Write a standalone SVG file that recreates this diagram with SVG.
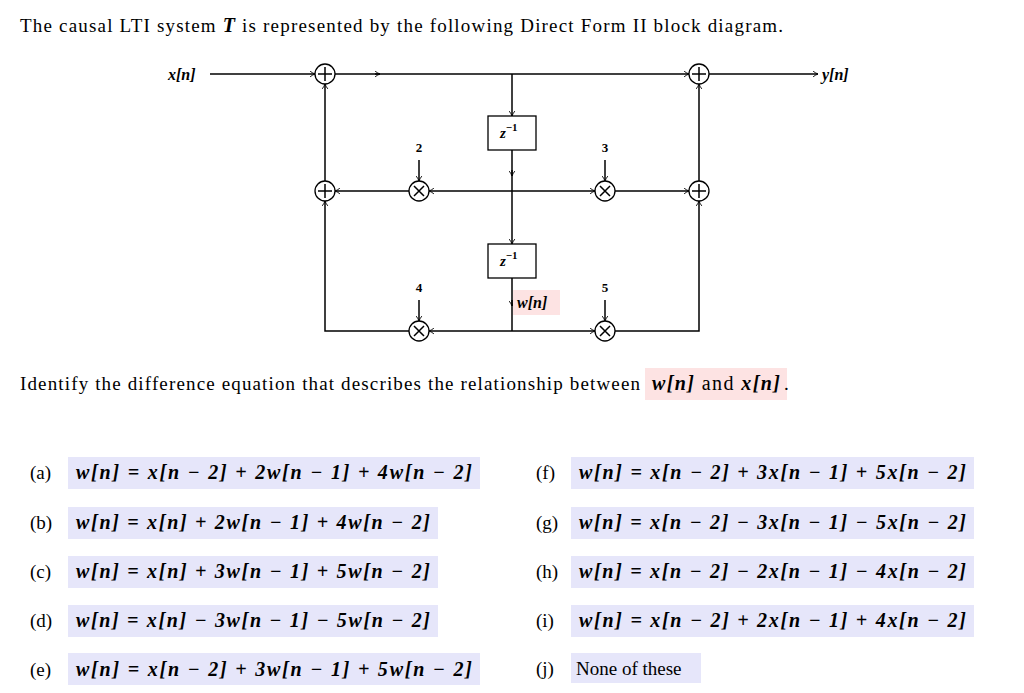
<svg xmlns="http://www.w3.org/2000/svg" width="1024" height="693" viewBox="0 0 1024 693">
<defs>
<style>
text{font-family:"Liberation Serif","DejaVu Serif",serif;fill:#000}
.t{font-size:19px}
.m{font-size:20px;font-weight:bold;font-style:italic}
.n{font-size:13px;font-weight:bold}
.w{stroke:#000;stroke-width:1.5;fill:none}
.c{stroke:#000;stroke-width:1.3;fill:#fff}
.hl{fill:#e6e6fa}
</style>
<marker id="a" viewBox="0 0 10 10" refX="9" refY="5" markerWidth="7" markerHeight="7" orient="auto-start-reverse" markerUnits="userSpaceOnUse"><path d="M2,1 Q6,4 9,5 Q6,6 2,9" fill="none" stroke="#000" stroke-width="1.3"/></marker>
</defs>
<rect width="1024" height="693" fill="#fff"/>
<text class="t" x="20" y="32" textLength="763" lengthAdjust="spacing">The causal LTI system <tspan class="m">T</tspan> is represented by the following Direct Form II block diagram.</text>
<g id="connectors" class="w">
<path d="M210,74H315" marker-end="url(#a)"/>
<path d="M335,74H380" marker-end="url(#a)"/>
<path d="M375,74H689" marker-end="url(#a)"/>
<path d="M709,74H818" marker-end="url(#a)"/>
<path d="M512,74V116" marker-end="url(#a)"/>
<path d="M512,150V176" marker-end="url(#a)"/>
<path d="M512,170V244" marker-end="url(#a)"/>
<path d="M512,278V306" marker-end="url(#a)"/>
<path d="M512,300V331"/>
<path d="M512,191H429" marker-end="url(#a)"/>
<path d="M512,191H595" marker-end="url(#a)"/>
<path d="M409,191H335" marker-end="url(#a)"/>
<path d="M615,191H689" marker-end="url(#a)"/>
<path d="M512,331H429" marker-end="url(#a)"/>
<path d="M512,331H595" marker-end="url(#a)"/>
<path d="M409,331H325V201" marker-end="url(#a)"/>
<path d="M615,331H699V201" marker-end="url(#a)"/>
<path d="M325,181V84" marker-end="url(#a)"/>
<path d="M699,181V84" marker-end="url(#a)"/>
<path d="M419,160V181" marker-end="url(#a)"/>
<path d="M605,160V181" marker-end="url(#a)"/>
<path d="M419,300V321" marker-end="url(#a)"/>
<path d="M605,300V321" marker-end="url(#a)"/>
</g>
<text x="168" y="80" font-family="Liberation Serif, serif" font-size="16" font-style="italic" font-weight="bold">x[n]</text>
<text x="822" y="80" font-family="Liberation Serif, serif" font-size="16" font-style="italic" font-weight="bold">y[n]</text>
<g id="add1"><circle class="c" cx="325" cy="74" r="10"/><path class="w" d="M318,74h14M325,67v14"/></g>
<g id="add2"><circle class="c" cx="699" cy="74" r="10"/><path class="w" d="M692,74h14M699,67v14"/></g>
<g id="add3"><circle class="c" cx="325" cy="191" r="10"/><path class="w" d="M318,191h14M325,184v14"/></g>
<g id="add4"><circle class="c" cx="699" cy="191" r="10"/><path class="w" d="M692,191h14M699,184v14"/></g>
<g id="mul2"><circle class="c" cx="419" cy="191" r="10"/><path class="w" d="M414,186l10,10M424,186l-10,10"/><text class="n" x="419" y="152" text-anchor="middle">2</text></g>
<g id="mul3"><circle class="c" cx="605" cy="191" r="10"/><path class="w" d="M600,186l10,10M610,186l-10,10"/><text class="n" x="605" y="152" text-anchor="middle">3</text></g>
<g id="mul4"><circle class="c" cx="419" cy="331" r="10"/><path class="w" d="M414,326l10,10M424,326l-10,10"/><text class="n" x="419" y="292" text-anchor="middle">4</text></g>
<g id="mul5"><circle class="c" cx="605" cy="331" r="10"/><path class="w" d="M600,326l10,10M610,326l-10,10"/><text class="n" x="605" y="292" text-anchor="middle">5</text></g>
<g id="delay1"><rect class="c" x="488" y="116" width="48" height="34"/><text x="500" y="138" font-family="Liberation Serif, serif" font-size="15" font-style="italic" font-weight="bold">z<tspan dy="-7" font-size="11" font-style="normal">−1</tspan></text></g>
<g id="delay2"><rect class="c" x="488" y="244" width="48" height="34"/><text x="500" y="266" font-family="Liberation Serif, serif" font-size="15" font-style="italic" font-weight="bold">z<tspan dy="-7" font-size="11" font-style="normal">−1</tspan></text></g>
<g id="wlabel"><rect x="513" y="290" width="47" height="25" fill="#fde3e3"/><text x="517" y="308" font-family="Liberation Serif, serif" font-size="16" font-style="italic" font-weight="bold">w[n]</text></g>
<rect x="645" y="368" width="142" height="32" fill="#fde3e3"/>
<text class="t" x="20" y="390" textLength="620" lengthAdjust="spacing">Identify the difference equation that describes the relationship between</text>
<text class="m" x="652" y="390" textLength="128" lengthAdjust="spacing">w[n] <tspan font-weight="normal" font-style="normal">and</tspan> x[n]</text>
<text class="t" x="784" y="390">.</text>
<g class="hl">
<rect x="68" y="457" width="412" height="32"/>
<rect x="68" y="507" width="370" height="32"/>
<rect x="68" y="556" width="370" height="32"/>
<rect x="68" y="605" width="370" height="32"/>
<rect x="68" y="653" width="412" height="32"/>
<rect x="571" y="457" width="403" height="32"/>
<rect x="571" y="507" width="403" height="32"/>
<rect x="571" y="556" width="403" height="32"/>
<rect x="571" y="605" width="403" height="32"/>
<rect x="571" y="653" width="130" height="30"/>
</g>
<g>
<text x="30" y="479" class="t">(a)</text><text x="76" y="479" class="m" textLength="396" lengthAdjust="spacing">w[n] = x[n − 2] + 2w[n − 1] + 4w[n − 2]</text>
<text x="30" y="529" class="t">(b)</text><text x="76" y="529" class="m" textLength="354" lengthAdjust="spacing">w[n] = x[n] + 2w[n − 1] + 4w[n − 2]</text>
<text x="30" y="578" class="t">(c)</text><text x="76" y="578" class="m" textLength="354" lengthAdjust="spacing">w[n] = x[n] + 3w[n − 1] + 5w[n − 2]</text>
<text x="30" y="627" class="t">(d)</text><text x="76" y="627" class="m" textLength="354" lengthAdjust="spacing">w[n] = x[n] − 3w[n − 1] − 5w[n − 2]</text>
<text x="30" y="676" class="t">(e)</text><text x="76" y="676" class="m" textLength="396" lengthAdjust="spacing">w[n] = x[n − 2] + 3w[n − 1] + 5w[n − 2]</text>
<text x="536" y="479" class="t">(f)</text><text x="579" y="479" class="m" textLength="387" lengthAdjust="spacing">w[n] = x[n − 2] + 3x[n − 1] + 5x[n − 2]</text>
<text x="536" y="529" class="t">(g)</text><text x="579" y="529" class="m" textLength="387" lengthAdjust="spacing">w[n] = x[n − 2] − 3x[n − 1] − 5x[n − 2]</text>
<text x="536" y="578" class="t">(h)</text><text x="579" y="578" class="m" textLength="387" lengthAdjust="spacing">w[n] = x[n − 2] − 2x[n − 1] − 4x[n − 2]</text>
<text x="536" y="627" class="t">(i)</text><text x="579" y="627" class="m" textLength="387" lengthAdjust="spacing">w[n] = x[n − 2] + 2x[n − 1] + 4x[n − 2]</text>
<text x="536" y="675" class="t">(j)</text><text x="576" y="675" class="t">None of these</text>
</g>
</svg>
